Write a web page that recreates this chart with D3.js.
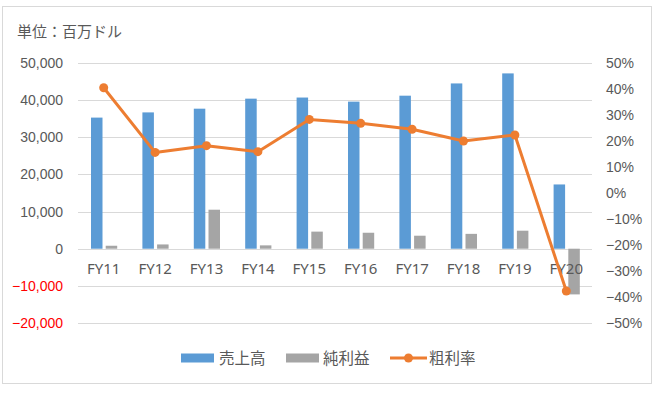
<!DOCTYPE html>
<html>
<head>
<meta charset="utf-8">
<script src="https://cdn.jsdelivr.net/npm/d3@7"></script>
<style>
  body { margin: 0; background: #fff; }
  svg { display: block; font-family: "Noto Sans", "Noto Sans CJK JP", sans-serif; }
</style>
</head>
<body>
<svg id="chart" width="659" height="394"></svg>
<script>
// data
const years = ["FY11", "FY12", "FY13", "FY14", "FY15", "FY16", "FY17", "FY18", "FY19", "FY20"];
const sales = [35300, 36700, 37700, 40400, 40700, 39600, 41200, 44500, 47200, 17300];
const netIncome = [800, 1150, 10500, 900, 4600, 4300, 3500, 4000, 4850, -12300];
const grossMargin = [0.405, 0.156, 0.182, 0.159, 0.283, 0.268, 0.245, 0.20, 0.223, -0.377];
const leftTicks = [-20000, -10000, 0, 10000, 20000, 30000, 40000, 50000];
const rightTicks = [-0.5, -0.4, -0.3, -0.2, -0.1, 0, 0.1, 0.2, 0.3, 0.4, 0.5];
const seriesNames = ["売上高", "純利益", "粗利率"];

const blue = "#5B9BD5", gray = "#A5A5A5", orange = "#ED7D31", txt = "#595959";

const svg = d3.select("#chart");
const margin = { left: 78, right: 67, top: 63, bottom: 71 };
const W = 659, H = 394;

// outer frame
svg.append("rect")
    .attr("x", 2.5).attr("y", 6.5)
    .attr("width", 649).attr("height", 377)
    .attr("fill", "#fff").attr("stroke", "#D9D9D9");

svg.append("text")
    .attr("x", 17).attr("y", 37)
    .attr("fill", txt).style("font-size", "15px")
    .text("単位：百万ドル");

const x = d3.scaleBand()
    .domain(years)
    .range([margin.left, W - margin.right]);

const yL = d3.scaleLinear()
    .domain([-20000, 50000])
    .range([H - margin.bottom, margin.top]);

const yR = d3.scaleLinear()
    .domain([-0.5, 0.5])
    .range([H - margin.bottom, margin.top]);

// gridlines
svg.append("g")
    .selectAll("line")
    .data(leftTicks)
    .join("line")
    .attr("x1", margin.left).attr("x2", W - margin.right)
    .attr("y1", d => Math.round(yL(d)) + 0.5)
    .attr("y2", d => Math.round(yL(d)) + 0.5)
    .attr("stroke", "#D9D9D9");

// left axis
const leftAxis = svg.append("g")
    .attr("transform", `translate(${margin.left - 15},0)`)
    .call(d3.axisLeft(yL).tickValues(leftTicks).tickSize(0).tickFormat(d3.format(",")));
leftAxis.select(".domain").remove();
leftAxis.selectAll("text")
    .attr("x", 0)
    .style("font-size", "14px")
    .attr("fill", d => d < 0 ? "#FF0000" : txt);

// right axis
const rightAxis = svg.append("g")
    .attr("transform", `translate(${W - margin.right + 14},0)`)
    .call(d3.axisRight(yR).tickValues(rightTicks).tickSize(0).tickFormat(d3.format(".0%")));
rightAxis.select(".domain").remove();
rightAxis.selectAll("text")
    .attr("x", 0)
    .style("font-size", "14px")
    .attr("fill", txt);

// bars
const bw = 11.5;
svg.append("g")
    .selectAll("rect")
    .data(sales)
    .join("rect")
    .attr("x", (d, i) => x(years[i]) + x.bandwidth() / 2 - bw - 1.2)
    .attr("y", d => yL(Math.max(0, d)))
    .attr("width", bw)
    .attr("height", d => Math.abs(yL(d) - yL(0)))
    .attr("fill", blue);

svg.append("g")
    .selectAll("rect")
    .data(netIncome)
    .join("rect")
    .attr("x", (d, i) => x(years[i]) + x.bandwidth() / 2 + 2)
    .attr("y", d => yL(Math.max(0, d)))
    .attr("width", bw)
    .attr("height", d => Math.abs(yL(d) - yL(0)))
    .attr("fill", gray);

// category labels
svg.append("g")
    .selectAll("text")
    .data(years)
    .join("text")
    .attr("x", d => x(d) + x.bandwidth() / 2)
    .attr("y", yL(0) + 25)
    .attr("text-anchor", "middle")
    .attr("fill", txt)
    .style("font-size", "15px")
    .text(d => d);

// gross margin line
const line = d3.line()
    .x((d, i) => x(years[i]) + x.bandwidth() / 2)
    .y(d => yR(d));

svg.append("path")
    .datum(grossMargin)
    .attr("d", line)
    .attr("fill", "none")
    .attr("stroke", orange)
    .attr("stroke-width", 3)
    .attr("stroke-linejoin", "round");

svg.append("g")
    .selectAll("circle")
    .data(grossMargin)
    .join("circle")
    .attr("cx", (d, i) => x(years[i]) + x.bandwidth() / 2)
    .attr("cy", d => yR(d))
    .attr("r", 4.5)
    .attr("fill", orange);

// legend
const lg = svg.append("g").attr("transform", "translate(0,358)");
lg.append("rect").attr("x", 181).attr("y", -4.5).attr("width", 33).attr("height", 9).attr("fill", blue);
lg.append("rect").attr("x", 286).attr("y", -4.5).attr("width", 33).attr("height", 9).attr("fill", gray);
lg.append("line").attr("x1", 390).attr("x2", 427).attr("y1", 0).attr("y2", 0)
    .attr("stroke", orange).attr("stroke-width", 3);
lg.append("circle").attr("cx", 408.5).attr("cy", 0).attr("r", 4.5).attr("fill", orange);
lg.selectAll("text.lbl")
    .data(seriesNames)
    .join("text")
    .attr("class", "lbl")
    .attr("x", (d, i) => [219, 323, 429][i])
    .attr("y", 5.5)
    .attr("fill", txt)
    .style("font-size", "15.5px")
    .text(d => d);
</script>
</body>
</html>
